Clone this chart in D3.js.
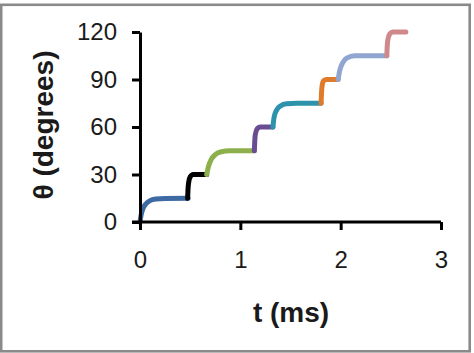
<!DOCTYPE html>
<html>
<head>
<meta charset="utf-8">
<script src="https://cdn.jsdelivr.net/npm/d3@7"></script>
<style>
  body { margin: 0; background: #fff; }
  svg { display: block; font-family: "Liberation Sans", Arial, sans-serif; }
</style>
</head>
<body>
<svg id="chart"></svg>
<script>
const width = 474;
const height = 353;

// step segments: [t (ms), theta (deg)]
const segBlue = [[0, 0], [0.01, 4], [0.03, 8.5], [0.06, 11.5], [0.1, 13.5], [0.16, 14.5], [0.25, 14.9], [0.48, 15]];
const segBlack = [[0.475, 15], [0.478, 20], [0.485, 25], [0.5, 28.5], [0.53, 30], [0.665, 30]];
const segGreen = [[0.665, 30], [0.68, 34.5], [0.71, 39.5], [0.75, 42.5], [0.8, 44.2], [0.9, 45], [1.14, 45]];
const segPurple = [[1.14, 45], [1.143, 50], [1.15, 55.5], [1.17, 59], [1.2, 60], [1.325, 60]];
const segTeal = [[1.325, 60], [1.336, 66], [1.36, 70.5], [1.4, 73.3], [1.46, 74.7], [1.56, 75], [1.805, 75]];
const segOrange = [[1.805, 75], [1.808, 80], [1.815, 86], [1.83, 89.2], [1.86, 90], [1.975, 90]];
const segLightBlue = [[1.975, 90], [1.99, 95.5], [2.02, 100.5], [2.06, 103.5], [2.14, 105], [2.46, 105]];
const segPink = [[2.46, 105], [2.463, 110], [2.47, 115], [2.49, 118.8], [2.52, 120], [2.65, 120]];

const segments = [segBlue, segBlack, segGreen, segPurple, segTeal, segOrange, segLightBlue, segPink];
const colors = ["#3d6aa3", "#000000", "#8db04c", "#6a4c93", "#2d93ad", "#e07b2b", "#90a6d0", "#d0898b"];

const xTicks = [0, 1, 2, 3];
const yTicks = [0, 30, 60, 90, 120];

const svg = d3.select("#chart")
    .attr("width", width)
    .attr("height", height);

// grey frame round the figure
svg.append("rect")
    .attr("x", 1.2)
    .attr("y", 4.8)
    .attr("width", 468.5)
    .attr("height", 346.5)
    .attr("fill", "none")
    .attr("stroke", "#8a8a8a")
    .attr("stroke-width", 2.6);

const x = d3.scaleLinear().domain([0, 3]).range([140, 441]);
const y = d3.scaleLinear().domain([0, 120]).range([222, 32]);

const line = d3.line()
    .x(d => x(d[0]))
    .y(d => y(d[1]))
    .curve(d3.curveMonotoneX);

svg.selectAll(".seg")
    .data(segments)
  .enter().append("path")
    .attr("class", "seg")
    .attr("d", line)
    .attr("fill", "none")
    .attr("stroke", (d, i) => colors[i])
    .attr("stroke-width", 5)
    .attr("stroke-linecap", "round");

const xAxis = svg.append("g")
    .attr("transform", `translate(0,${y(0)})`)
    .call(d3.axisBottom(x).tickValues(xTicks).tickFormat(d3.format("d")).tickSize(8).tickSizeOuter(0).tickPadding(21));

const yAxis = svg.append("g")
    .attr("transform", `translate(${x(0)},0)`)
    .call(d3.axisLeft(y).tickValues(yTicks).tickFormat(d3.format("d")).tickSize(8).tickSizeOuter(0).tickPadding(15));

[xAxis, yAxis].forEach(g => {
    g.attr("font-size", 24).attr("font-family", "'Liberation Sans', Arial, sans-serif");
    g.select(".domain").attr("stroke", "#000").attr("stroke-width", 3);
    g.selectAll(".tick line").attr("stroke", "#000").attr("stroke-width", 3);
    g.selectAll(".tick text").attr("fill", "#1a1a1a");
});

// x axis line runs a little past the last tick
xAxis.select(".domain").attr("d", `M${x(0) - 8},0H${x(3)}`);

svg.append("text")
    .attr("x", 291)
    .attr("y", 322)
    .attr("text-anchor", "middle")
    .attr("font-weight", "bold")
    .attr("font-size", 28)
    .attr("fill", "#1a1a1a")
    .text("t (ms)");

svg.append("text")
    .attr("transform", "translate(53,125) rotate(-90)")
    .attr("text-anchor", "middle")
    .attr("font-weight", "bold")
    .attr("font-size", 28)
    .attr("fill", "#1a1a1a")
    .text("θ (degrees)");
</script>
</body>
</html>
